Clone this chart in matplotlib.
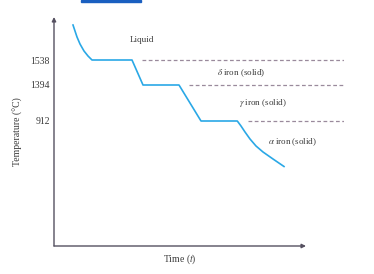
import matplotlib
matplotlib.use("Agg")
import matplotlib.pyplot as plt
from matplotlib.patches import Rectangle

plt.rcParams['font.family'] = ['Liberation Serif', 'DejaVu Serif']
plt.rcParams['mathtext.fontset'] = 'stix'

# schematic positions of the transformation temperatures (axis units)
tick_levels = [18.6, 16.1, 12.5]
tick_labels = ['1538', '1394', '912']

# cooling curve (schematic)
curve_t = [1.9, 2.1, 2.3, 2.6, 3.0, 3.4, 3.8, 7.8, 8.9, 12.5, 14.7,
           18.33, 18.7, 19.1, 19.6, 20.2, 20.9, 21.9, 23.0]
curve_T = [22.1, 21.5, 20.9, 20.2, 19.5, 19.0, 18.6, 18.6, 16.1, 16.1, 12.5,
           12.5, 12.0, 11.4, 10.7, 10.0, 9.4, 8.7, 7.95]

# dashed phase boundary lines: start time, level
dash_start = [8.8, 13.5, 19.4]
dash_end = 29.0

phase_labels = ['Liquid', r'$\delta$ iron (solid)', r'$\gamma$ iron (solid)', r'$\alpha$ iron (solid)']
phase_pos = [(8.8, 20.6), (18.7, 17.3), (20.9, 14.3), (23.9, 10.4)]

W, H = 374, 274
fig = plt.figure(figsize=(W / 100, H / 100), dpi=100)
ax = fig.add_axes([54 / W, (H - 246) / H, 290 / W, 228 / H])
ax.set_xlim(0, 29)
ax.set_ylim(0, 22.8)
for s in ax.spines.values():
    s.set_visible(False)

txt = '#3a3a3a'
ax.plot(curve_t, curve_T, color='#2aa8e6', lw=1.2, solid_joinstyle='round')
for x0, lv in zip(dash_start, tick_levels):
    ax.plot([x0, dash_end], [lv, lv], color='#9a8a9c', lw=0.9, ls=(0, (3, 2)))

for lab, (x, y) in zip(phase_labels, phase_pos):
    ax.text(x, y, lab, ha='center', va='center', fontsize=6.5, color=txt)

# axes with arrows
ax.annotate('', xy=(0, 22.9), xytext=(0, 0),
            arrowprops=dict(arrowstyle='-|>', color='#555060', lw=1.0,
                            mutation_scale=6, shrinkA=0, shrinkB=0),
            annotation_clip=False)
ax.annotate('', xy=(25.2, 0), xytext=(0, 0),
            arrowprops=dict(arrowstyle='-|>', color='#555060', lw=1.0,
                            mutation_scale=6, shrinkA=0, shrinkB=0),
            annotation_clip=False)

ax.set_xticks([])
ax.set_yticks(tick_levels)
ax.set_yticklabels(tick_labels, fontsize=7, color=txt)
ax.tick_params(axis='y', length=0, pad=3)

ax.set_ylabel('Temperature (°C)', fontsize=7, color=txt, labelpad=5)
ax.text(12.6, -1.3, r'Time ($t$)', ha='center', va='center', fontsize=7, color=txt)

# top blue link underline
fig.patches.append(Rectangle((81 / W, 1 - 1.6 / H), 60 / W, 1.6 / H,
                             transform=fig.transFigure, color='#1a5fc0'))

fig.savefig('out.png', dpi=100)
